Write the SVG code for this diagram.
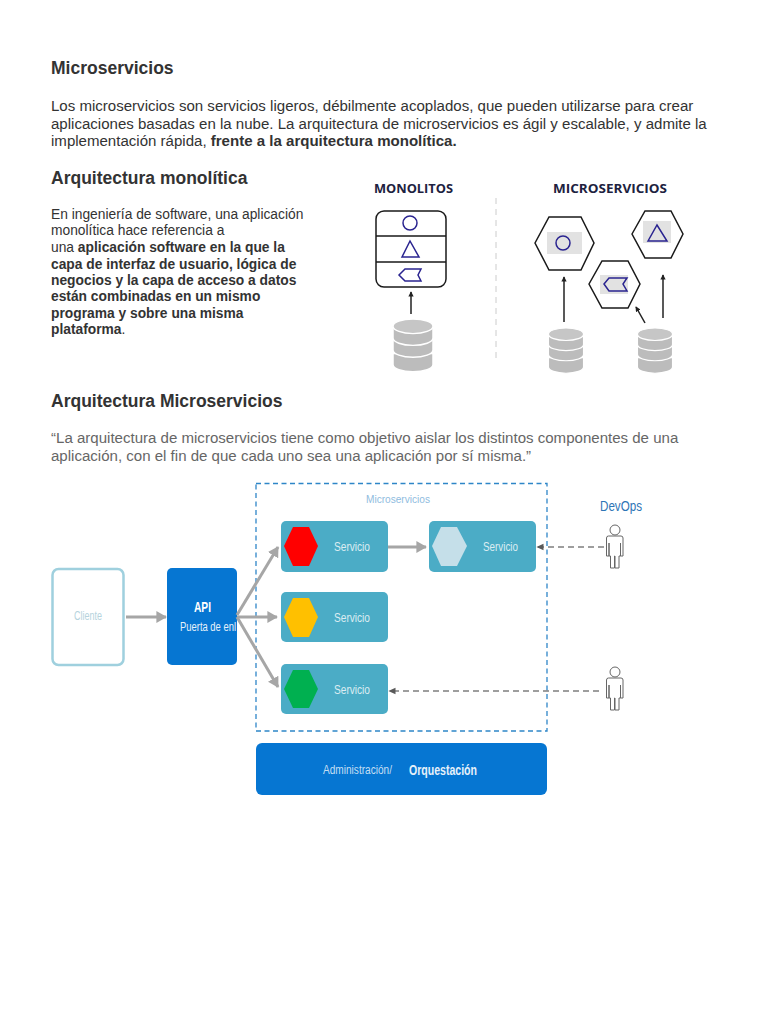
<svg xmlns="http://www.w3.org/2000/svg" width="768" height="1024" viewBox="0 0 768 1024">
<style>
text{font-family:"Liberation Sans",Arial,sans-serif}
.h{font-size:17.5px;font-weight:bold;fill:#333}
.b{font-size:15.05px;fill:#333}
.s{font-size:13.8px;fill:#333}
.q{font-size:15.05px;fill:#666}
.bd{font-weight:bold}
.cap{font-size:13px;font-weight:bold;fill:#1d2240;font-family:"Open Sans","Liberation Sans",sans-serif}
.ln{fill:none;stroke:#1a1a1a;stroke-width:1.5}
.ic{fill:none;stroke:#2a2490;stroke-width:1.5}
.gr{fill:#e2e2e2}
.hx{fill:#fff;stroke:#1a1a1a;stroke-width:1.5}
.ar{fill:none;stroke:#222;stroke-width:1.5;marker-end:url(#ka)}
.svc{fill:#4bacc6}
.st{font-size:12px;fill:#dcecf2}
.big{fill:none;stroke:#a6a6a6;stroke-width:3;marker-end:url(#ga)}
.dash{fill:none;stroke:#7f7f7f;stroke-width:1.3;stroke-dasharray:6 4;marker-end:url(#da)}
.pers{fill:#fff;stroke:#666;stroke-width:1}
</style>
<defs>
<marker id="ka" markerWidth="3.500" markerHeight="3.500" refX="3" refY="1.750" orient="auto"><path d="M0 0L3.500 1.750L0 3.500Z" fill="#222"/></marker>
<marker id="ga" markerWidth="3.500" markerHeight="4" refX="3.200" refY="2" orient="auto"><path d="M0 0L3.500 2L0 4Z" fill="#a6a6a6"/></marker>
<marker id="da" markerWidth="6" markerHeight="6" refX="5" refY="3" orient="auto"><path d="M0 .5L5.500 3L0 5.500Z" fill="#595959"/></marker>
<g id="db"><g fill="#bcbcbc" stroke="#fff" stroke-width="1.500"><path d="M-20 38v12a20 8 0 0 0 40 0V38Z"/><path d="M-20 21v13a20 8 0 0 0 40 0V21Z"/><path d="M-20 8v13a20 8 0 0 0 40 0V8Z"/><ellipse cy="8" rx="20" ry="8" fill="#c6c6c6"/></g></g>
<g id="person"><circle cy="5" r="5" class="pers"/><path d="M-6 11h12q2 0 2 2v18h-2.500v-13v13h-1.500v12h-4v-12h-.5v12h-4v-12h-1.500v-13v13h-2.500v-18q0-2 2-2Z" class="pers"/></g>
</defs>
<rect width="768" height="1024" fill="#fff"/>
<g id="texto">
<text x="51" y="74" class="h">Microservicios</text>
<text x="51" y="111" class="b">Los microservicios son servicios ligeros, débilmente acoplados, que pueden utilizarse para crear</text>
<text x="51" y="129" class="b">aplicaciones basadas en la nube. La arquitectura de microservicios es ágil y escalable, y admite la</text>
<text x="51" y="146" class="b">implementación rápida, <tspan class="bd">frente a la arquitectura monolítica.</tspan></text>
<text x="51" y="183.500" class="h">Arquitectura monolítica</text>
<text x="51" y="219" class="s">En ingeniería de software, una aplicación</text>
<text x="51" y="235" class="s">monolítica hace referencia a</text>
<text x="51" y="252" class="s">una <tspan class="bd">aplicación software en la que la</tspan></text>
<text x="51" y="269" class="s bd">capa de interfaz de usuario, lógica de</text>
<text x="51" y="285" class="s bd">negocios y la capa de acceso a datos</text>
<text x="51" y="301" class="s bd">están combinadas en un mismo</text>
<text x="51" y="318" class="s bd">programa y sobre una misma</text>
<text x="51" y="334" class="s"><tspan class="bd">plataforma</tspan>.</text>
<text x="51" y="406.500" class="h">Arquitectura Microservicios</text>
<text x="51" y="443" class="q">“La arquitectura de microservicios tiene como objetivo aislar los distintos componentes de una</text>
<text x="51" y="461" class="q">aplicación, con el fin de que cada uno sea una aplicación por sí misma.”</text>
</g>
<g id="monolitos">
<text x="374" y="193" class="cap" textLength="79" lengthAdjust="spacingAndGlyphs">MONOLITOS</text>
<rect x="376" y="211" width="70" height="76" rx="8" class="ln"/>
<path d="M376 236H446M376 262H446" class="ln"/>
<circle cx="410" cy="223" r="7" class="ic"/>
<path d="M402 257L410 241L419 257Z" class="ic"/>
<path d="M399 275L405 269H421L418 275L421 281H405Z" class="ic"/>
<g transform="translate(413 319) scale(1 .91)"><use href="#db"/></g>
</g>
<path id="divisor" d="M496 198V362" fill="none" stroke="#ccc" stroke-dasharray="6 5"/>
<g id="microservicios">
<text x="553" y="193" class="cap" textLength="114" lengthAdjust="spacingAndGlyphs">MICROSERVICIOS</text>
<path d="M535 243L549 217H581L594 243L581 270H549Z" class="hx"/>
<rect x="547" y="232" width="35" height="22" class="gr"/>
<circle cx="563" cy="243" r="7" class="ic"/>
<path d="M632 234L645 211H671L683 234L671 258H645Z" class="hx"/>
<rect x="643" y="221" width="28" height="22" class="gr"/>
<path d="M648 241L657 225L667 241Z" class="ic"/>
<path d="M589 284L602 261H628L640 284L628 308H602Z" class="hx"/>
<rect x="600" y="275" width="28" height="19" class="gr"/>
<path d="M604 284L609 278H627L623 284L627 291H609Z" class="ic"/>
<g transform="translate(566 328) scale(.88 .78)"><use href="#db"/></g>
<g transform="translate(655 328) scale(.88 .78)"><use href="#db"/></g>
</g>
<g id="conectores-arriba">
<path d="M411 314V292" class="ar"/>
<path d="M564 322V277" class="ar"/>
<path d="M663 318V275" class="ar"/>
<path d="M645 323L636 307" class="ar"/>
</g>
<g id="marco-microservicios">
<rect x="256" y="483.500" width="291" height="247.500" fill="none" stroke="#2e86c8" stroke-width="1.300" stroke-dasharray="5 3.500"/>
<text x="366" y="503" font-size="11.500" fill="#8fbce0" textLength="64" lengthAdjust="spacingAndGlyphs">Microservicios</text>
</g>
<g id="cliente"><rect x="52.500" y="569" width="71" height="96" rx="6" fill="#fff" stroke="#9fd0de" stroke-width="2.500"/><text x="74" y="620" font-size="12" fill="#b5d3dd" textLength="28" lengthAdjust="spacingAndGlyphs">Cliente</text></g>
<g id="api"><rect x="167" y="568" width="70" height="97" rx="5" fill="#0676d2"/><text x="194" y="612" font-size="14" font-weight="bold" fill="#fff" textLength="17" lengthAdjust="spacingAndGlyphs">API</text><text x="180" y="631" font-size="12.500" fill="#e6f1fa" textLength="56" lengthAdjust="spacingAndGlyphs">Puerta de enl</text></g>
<g id="servicio-rojo"><rect x="281" y="521" width="107" height="51" rx="5" class="svc"/><path d="M284 546L293 527H309L318 546L309 566H293Z" fill="#f00"/><text x="334" y="551" class="st" textLength="36" lengthAdjust="spacingAndGlyphs">Servicio</text></g>
<g id="servicio-celeste"><rect x="429" y="521" width="107" height="51" rx="5" class="svc"/><path d="M432 546L441 527H457L467 546L457 566H441Z" fill="#c5dfe9"/><text x="483" y="551" class="st" textLength="35" lengthAdjust="spacingAndGlyphs">Servicio</text></g>
<g id="servicio-amarillo"><rect x="281" y="592" width="107" height="50" rx="5" class="svc"/><path d="M284 617L293 598H309L318 617L309 637H293Z" fill="#ffc000"/><text x="334" y="622" class="st" textLength="36" lengthAdjust="spacingAndGlyphs">Servicio</text></g>
<g id="servicio-verde"><rect x="281" y="664" width="107" height="50" rx="5" class="svc"/><path d="M284 689L293 670H309L318 689L309 708H293Z" fill="#00b050"/><text x="334" y="694" class="st" textLength="36" lengthAdjust="spacingAndGlyphs">Servicio</text></g>
<g id="administracion"><rect x="256" y="743" width="291" height="52" rx="6" fill="#0676d2"/><text x="323" y="774" font-size="12" fill="#c5dff3" textLength="69" lengthAdjust="spacingAndGlyphs">Administración/</text><text x="409" y="775" font-size="14" font-weight="bold" fill="#e6f1fa" textLength="68" lengthAdjust="spacingAndGlyphs">Orquestación</text></g>
<g id="devops"><text x="600" y="511" font-size="14" fill="#2e75b6" textLength="42" lengthAdjust="spacingAndGlyphs">DevOps</text><use href="#person" x="615" y="525"/></g>
<g id="persona"><use href="#person" x="615" y="667"/></g>
<g id="conectores">
<path d="M126 617H166" class="big"/>
<path d="M237 615L278 547" class="big"/>
<path d="M237 617H277" class="big"/>
<path d="M237 617L278 687" class="big"/>
<path d="M388 547H426" class="big"/>
<path d="M604 547H537" class="dash"/>
<path d="M599 691H389" class="dash"/>
</g>
</svg>
